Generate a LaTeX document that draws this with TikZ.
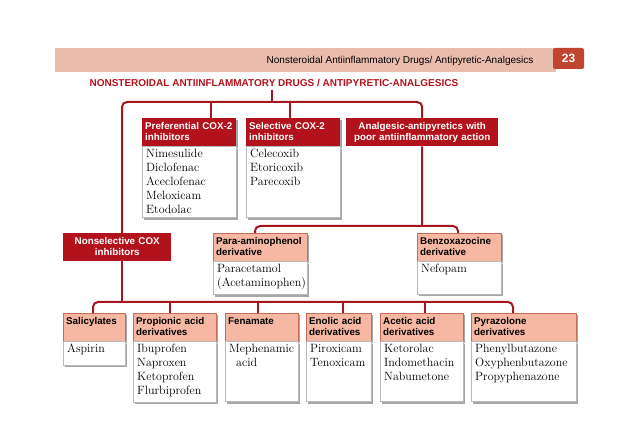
\documentclass[tikz,border=0pt]{standalone}
\usepackage{fontspec}
\newfontfamily\hdfont{Liberation Sans}
\usetikzlibrary{shadows}

\definecolor{nsred}{RGB}{178,18,28}
\definecolor{nslink}{RGB}{165,22,30}
\definecolor{nssalmon}{RGB}{246,184,162}
\definecolor{nsedge}{RGB}{196,110,90}
\definecolor{nsband}{RGB}{234,188,173}
\definecolor{nspage}{RGB}{192,68,48}

\tikzset{
  link/.style={draw=nslink, line width=2pt, rounded corners=5pt},
  shade/.style={drop shadow={shadow xshift=2pt, shadow yshift=-2pt, fill=gray!70, opacity=1}},
  redhead/.style={fill=nsred, text=white, font=\hdfont\bfseries\fontsize{9.8}{11.5}\selectfont,
    inner xsep=3pt, inner ysep=3pt, text height=8pt, text depth=14pt, anchor=north west, align=left},
  pinkhead/.style={redhead, fill=nssalmon, draw=nsedge, text=black, shade},
  drugs/.style={fill=white, draw=gray!55, shade, font=\fontsize{12}{14}\selectfont,
    inner xsep=4pt, inner ysep=2.5pt, text height=8.5pt, anchor=north west, align=left},
}

\begin{document}
\begin{tikzpicture}[x=1pt, y=-1pt]
  \useasboundingbox (0,0) rectangle (638,430);

  % running head of the page
  \fill[nsband] (55,48) rectangle (556,72);
  \node[anchor=east, font=\hdfont\fontsize{10}{12}\selectfont] (running) at (537,61)
    {Nonsteroidal Antiinflammatory Drugs/ Antipyretic-Analgesics};
  \node[fill=nspage, rounded corners=2pt, text=white, font=\hdfont\bfseries\fontsize{12}{14}\selectfont,
    minimum width=31pt, minimum height=21pt] (pagenum) at (568.5,58.5) {23};

  \node[anchor=west, text=nsred, font=\hdfont\bfseries\fontsize{10}{12}\selectfont] (title) at (86,83)
    {NONSTEROIDAL ANTIINFLAMMATORY DRUGS / ANTIPYRETIC-ANALGESICS};

  % first row
  \node[redhead, shade, text width=88pt] (pref) at (142,118) {Preferential COX-2\\inhibitors};
  \node[drugs, text width=86pt, text depth=57.5pt] (prefd) at (pref.south west)
    {Nimesulide\\Diclofenac\\Aceclofenac\\Meloxicam\\Etodolac};
  \node[redhead, shade, text width=88pt] (sel) at (246,118) {Selective COX-2\\inhibitors};
  \node[drugs, text width=86pt, text depth=57.5pt] (seld) at (sel.south west)
    {Celecoxib\\Etoricoxib\\Parecoxib};
  \node[redhead, text width=146pt, align=center] (anal) at (346,118)
    {Analgesic-antipyretics with\\poor antiinflammatory action};

  % second row
  \node[redhead, text width=102pt, align=center] (nsel) at (63,233) {Nonselective COX\\inhibitors};
  \node[pinkhead, text width=88pt] (para) at (213,233) {Para-aminophenol\\derivative};
  \node[drugs, text width=86pt, text depth=19.5pt] (parad) at (para.south west)
    {Paracetamol\\(Acetaminophen)};
  \node[pinkhead, text width=78pt] (benzo) at (417,233) {Benzoxazocine\\derivative};
  \node[drugs, text width=76pt, text depth=19pt] (benzod) at (benzo.south west) {Nefopam};

  % third row
  \node[pinkhead, text width=56pt] (sal) at (63,313) {Salicylates};
  \node[drugs, text width=54pt, text depth=10pt] (sald) at (sal.south west) {Aspirin};
  \node[pinkhead, text width=77pt] (pro) at (133,313) {Propionic acid\\derivatives};
  \node[drugs, text width=75pt, text depth=47pt] (prod) at (pro.south west)
    {Ibuprofen\\Naproxen\\Ketoprofen\\Flurbiprofen};
  \node[pinkhead, text width=67pt] (fen) at (225,313) {Fenamate};
  \node[drugs, text width=65pt, text depth=46.5pt] (fend) at (fen.south west)
    {Mephenamic\\\hspace*{7pt}acid};
  \node[pinkhead, text width=59pt] (eno) at (306,313) {Enolic acid\\derivatives};
  \node[drugs, text width=57pt, text depth=46.5pt] (enod) at (eno.south west)
    {Piroxicam\\Tenoxicam};
  \node[pinkhead, text width=77pt] (ace) at (380,313) {Acetic acid\\derivatives};
  \node[drugs, text width=75pt, text depth=46.5pt] (aced) at (ace.south west)
    {Ketorolac\\Indomethacin\\Nabumetone};
  \node[pinkhead, text width=99pt] (pyr) at (471,313) {Pyrazolone\\derivatives};
  \node[drugs, text width=97pt, text depth=46.5pt] (pyrd) at (pyr.south west)
    {Phenylbutazone\\Oxyphenbutazone\\Propyphenazone};

  % connectors
  \coordinate (stem) at (272,102);
  \coordinate (lft) at (122,102);
  \draw[link] (title.south -| stem) -- (stem);
  \draw[link] (lft |- nsel.north) -- (lft) -- (anal.north |- lft) -- (anal.north);
  \foreach \n/\x in {pref/211, sel/290}{        % drops from the top bar
      \coordinate (top\n) at (\x,102);
      \draw[link] (top\n) -- (top\n |- \n.north);
    }

  \coordinate (mid) at (422,226);
  \coordinate (midl) at (255,226);
  \coordinate (midr) at (458,226);
  \draw[link] (anal.south) -- (mid);
  \draw[link] (midl |- para.north) -- (midl) -- (midr) -- (midr |- benzo.north);

  \coordinate (low) at (122,302);
  \draw[link] (nsel.south -| low) -- (low);
  \foreach \n/\x in {sal/93, pro/170, fen/258, eno/343, ace/425, pyr/513}{ % one foot per class
      \coordinate (d\n) at (\x,302);
    }
  \draw[link] (dsal |- sal.north) -- (dsal) -- (dpyr) -- (dpyr |- pyr.north);
  \foreach \n in {pro, fen, eno, ace}{
      \draw[link] (d\n) -- (d\n |- \n.north);
    }
\end{tikzpicture}
\end{document}
